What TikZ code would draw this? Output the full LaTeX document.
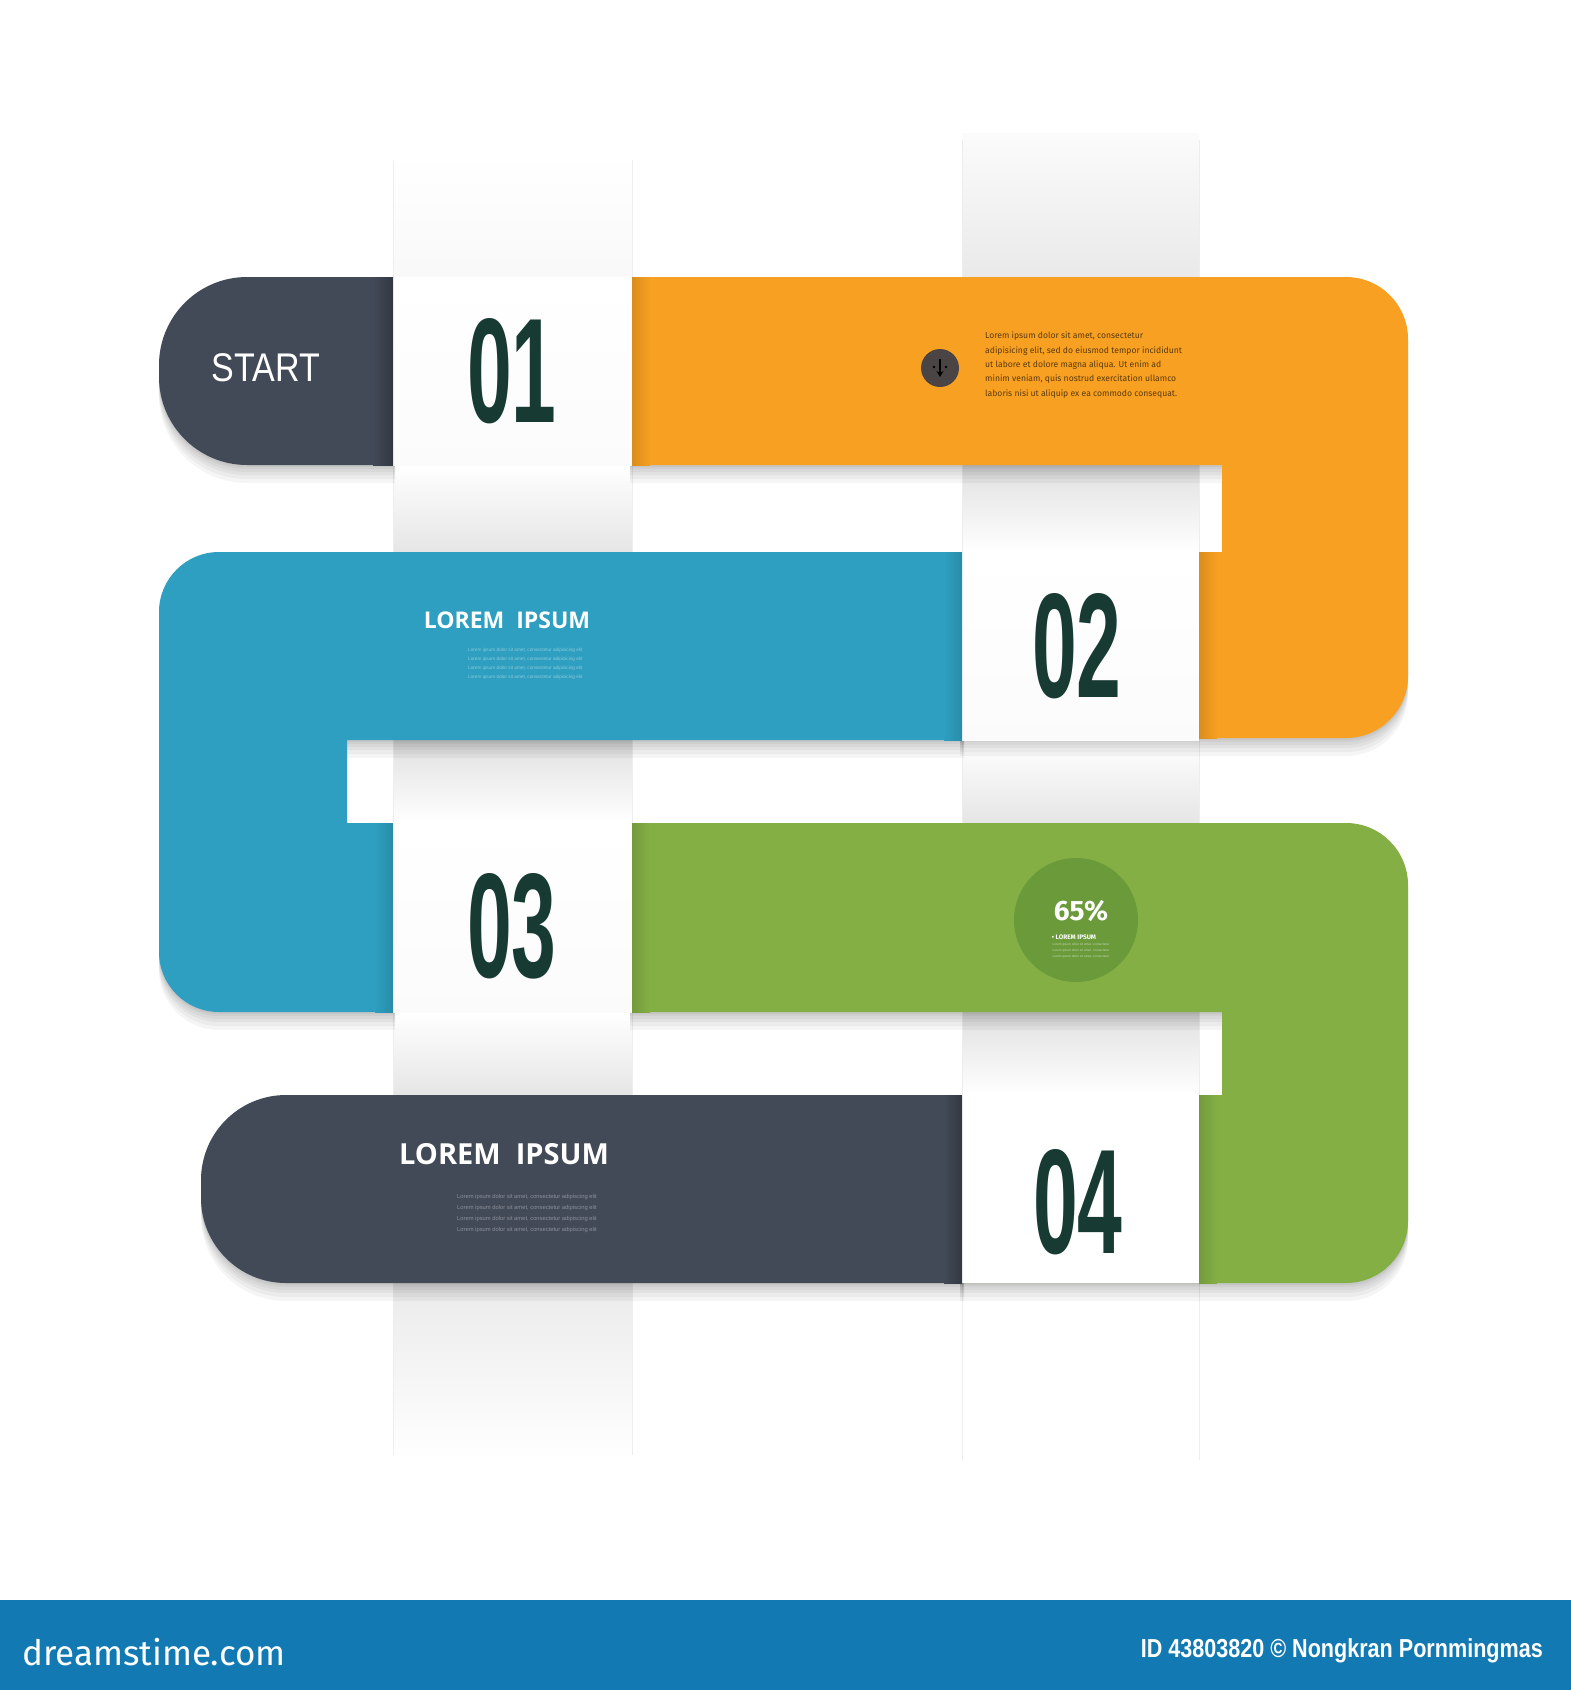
\documentclass[tikz,border=0pt]{standalone}
\usepackage{fontspec}
\setmainfont{Liberation Sans}
\newfontfamily\opensans{Open Sans}
\newfontfamily\firasans{Fira Sans}
\newfontfamily\latofont{Lato}
\usetikzlibrary{arrows.meta}
\definecolor{slate}{HTML}{434A57}
\definecolor{borange}{HTML}{F7A021}
\definecolor{bblue}{HTML}{2E9FC0}
\definecolor{bgreen}{HTML}{84AF45}
\definecolor{cgreen}{HTML}{6A9A3A}
\definecolor{numc}{HTML}{173B33}
\definecolor{footc}{HTML}{1279B2}
\definecolor{otext}{HTML}{5B3A0E}
\definecolor{iconc}{HTML}{4A4544}
\definecolor{smalldark}{HTML}{8A909A}
\def\pStart{(395,277) -- (247,277) arc[start angle=270,end angle=180,radius=88] -- (159,377) arc[start angle=180,end angle=90,radius=88] -- (395,465) -- cycle}
\def\pOrange{(630,277) -- (1346,277) arc[start angle=270,end angle=360,radius=62] -- (1408,676) arc[start angle=0,end angle=90,radius=62] -- (960,738) -- (960,552) -- (1222,552) -- (1222,465) -- (630,465) -- cycle}
\def\pBlue{(964,552) -- (219,552) arc[start angle=270,end angle=180,radius=60] -- (159,952) arc[start angle=180,end angle=90,radius=60] -- (395,1012) -- (395,823) -- (347,823) -- (347,740) -- (964,740) -- cycle}
\def\pGreen{(630,823) -- (1346,823) arc[start angle=270,end angle=360,radius=62] -- (1408,1221) arc[start angle=0,end angle=90,radius=62] -- (960,1283) -- (960,1095) -- (1222,1095) -- (1222,1012) -- (630,1012) -- cycle}
\def\pDark{(964,1095) -- (286,1095) arc[start angle=270,end angle=180,radius=85] -- (201,1198) arc[start angle=180,end angle=90,radius=85] -- (964,1283) -- cycle}
\begin{document}
\begin{tikzpicture}[x=1pt,y=-1pt,
  num/.style={text=numc, font=\bfseries\fontsize{149}{149}\selectfont, xscale=0.54, anchor=base, inner sep=0pt},
  head/.style={text=white, font=\opensans\bfseries\fontsize{#1}{#1}\selectfont, inner sep=0pt},
  edge/.style={gray!14, line width=0.8pt},
  dropsh/.style={black, opacity=0.04}]
\useasboundingbox (0,0) rectangle (1571,1690);
\fill[white] (0,0) rectangle (1571,1690);

% ---- columns, base layer
\shade[top color=white,bottom color=gray!5] (393,153) rectangle (632,277);
\shade[top color=white,bottom color=gray!20] (393,465) rectangle (632,552);
\shade[top color=gray!24,bottom color=white] (393,740) rectangle (632,823);
\shade[top color=white,bottom color=gray!20] (393,1012) rectangle (632,1095);
\shade[top color=gray!16,bottom color=white] (393,1283) rectangle (632,1460);
\shade[top color=gray!3,bottom color=gray!17] (962,133) rectangle (1199,277);
\shade[top color=gray!24,bottom color=white] (962,465) rectangle (1199,552);
\shade[top color=white,bottom color=gray!20] (962,740) rectangle (1199,823);
\shade[top color=gray!24,bottom color=white] (962,1012) rectangle (1199,1095);
\fill[white] (962,1283) rectangle (1199,1465);
\draw[edge] (393,160) -- (393,1455) (632,160) -- (632,1455);
\draw[edge] (962,140) -- (962,1460) (1199,140) -- (1199,1460);

% ---- drop shadows
\foreach \s in {2,4,7,10,14,18}{
  \fill[dropsh, shift={(0,\s)}] \pStart;
  \fill[dropsh, shift={(0,\s)}] \pOrange;
  \fill[dropsh, shift={(0,\s)}] \pBlue;
  \fill[dropsh, shift={(0,\s)}] \pGreen;
  \fill[dropsh, shift={(0,\s)}] \pDark;
}

% ---- bars
\fill[slate] \pStart;
\fill[borange] \pOrange;
\fill[bblue] \pBlue;
\fill[bgreen] \pGreen;
\fill[slate] \pDark;

% ---- columns lying on top
\shade[top color=white,bottom color=gray!3] (393,277) rectangle (632,465);
\shade[top color=white,bottom color=gray!3] (393,823) rectangle (632,1012);
\shade[top color=white,bottom color=gray!3] (962,552) rectangle (1199,740);
\fill[white] (962,1095) rectangle (1199,1283);

% ---- shadows cast by columns onto bars
\shade[left color=slate, right color=slate!75!black] (373,277) rectangle (393,465);
\shade[left color=borange!88!black, right color=borange] (632,277) rectangle (650,465);
\shade[left color=bblue, right color=bblue!88!black] (944,552) rectangle (962,740);
\shade[left color=borange!88!black, right color=borange] (1199,552) rectangle (1217,738);
\shade[left color=bblue, right color=bblue!88!black] (375,823) rectangle (393,1012);
\shade[left color=bgreen!88!black, right color=bgreen] (632,823) rectangle (650,1012);
\shade[left color=slate, right color=slate!75!black] (944,1095) rectangle (962,1283);
\shade[left color=bgreen!88!black, right color=bgreen] (1199,1095) rectangle (1217,1283);

% ---- numbers
\node[num] (n1) at (512,422) {01};
\node[num] (n2) at (1077,697) {02};
\node[num] (n3) at (512,977) {03};
\node[num] (n4) at (1078,1253) {04};

% ---- START
\node[text=white, font=\fontsize{40}{40}\selectfont, xscale=0.85, inner sep=0pt] (start) at (266,368) {START};

% ---- orange content
\node[circle, fill=iconc, minimum size=38pt, inner sep=0pt] (icon) at (940,368) {};
\draw[black, line width=2pt, -{Stealth[length=6pt,width=7pt]}] ([yshift=9pt]icon.center) -- ([yshift=-9pt]icon.center);
\fill[black] ([xshift=-6pt,yshift=1pt]icon.center) circle (1.4pt) ([xshift=6pt,yshift=1pt]icon.center) circle (1.4pt);
\node[anchor=north west, align=left, inner sep=0pt, text=otext, font=\firasans\fontsize{8.6}{14.3}\selectfont] (otxt) at (985,332)
 {Lorem ipsum dolor sit amet, consectetur\\
  adipisicing elit, sed do eiusmod tempor incididunt\\
  ut labore et dolore magna aliqua. Ut enim ad\\
  minim veniam, quis nostrud exercitation ullamco\\
  laboris nisi ut aliquip ex ea commodo consequat.};

% ---- blue content
\node[head=23] (bhead) at (507,620) {LOREM\ \ IPSUM};
\node[anchor=west, align=left, inner sep=0pt, text=white, opacity=0.45, font=\fontsize{4.7}{9}\selectfont] (btxt) at (468,664)
 {Lorem ipsum dolor sit amet, consectetur adipisicing elit\\
  Lorem ipsum dolor sit amet, consectetur adipisicing elit\\
  Lorem ipsum dolor sit amet, consectetur adipisicing elit\\
  Lorem ipsum dolor sit amet, consectetur adipisicing elit};

% ---- green content
\node[circle, fill=cgreen, minimum size=124pt, inner sep=0pt] (pct) at (1076,920) {};
\node[text=white, font=\firasans\bfseries\fontsize{28}{28}\selectfont, inner sep=0pt] (pcttxt) at (1081,911) {65\%};
\node[text=white, font=\firasans\bfseries\fontsize{6.5}{6.5}\selectfont, inner sep=0pt] (pctsub) at (1074,937) {• LOREM IPSUM};
\node[text=white, opacity=0.6, align=left, font=\fontsize{3.2}{6}\selectfont, inner sep=0pt] (pctlines) at (1081,951)
 {Lorem ipsum dolor sit amet, consectetur\\Lorem ipsum dolor sit amet, consectetur\\Lorem ipsum dolor sit amet, consectetur};

% ---- dark bar content
\node[head=29] (dhead) at (504,1154) {LOREM\ \ IPSUM};
\node[anchor=west, align=left, inner sep=0pt, text=smalldark, font=\fontsize{5.8}{11}\selectfont] (dtxt) at (457,1213)
 {Lorem ipsum dolor sit amet, consectetur adipiscing elit\\
  Lorem ipsum dolor sit amet, consectetur adipiscing elit\\
  Lorem ipsum dolor sit amet, consectetur adipiscing elit\\
  Lorem ipsum dolor sit amet, consectetur adipiscing elit};

% ---- footer
\fill[footc] (0,1600) rectangle (1571,1690);
\node[anchor=west, text=white, font=\firasans\fontsize{35}{35}\selectfont, inner sep=0pt] (logo) at (22,1652) {dreamstime.com};
\node[anchor=east, text=white, font=\bfseries\fontsize{26}{26}\selectfont, xscale=0.83, inner sep=0pt] (credit) at (1543,1651) {ID 43803820 © Nongkran Pornmingmas};
\end{tikzpicture}
\end{document}
